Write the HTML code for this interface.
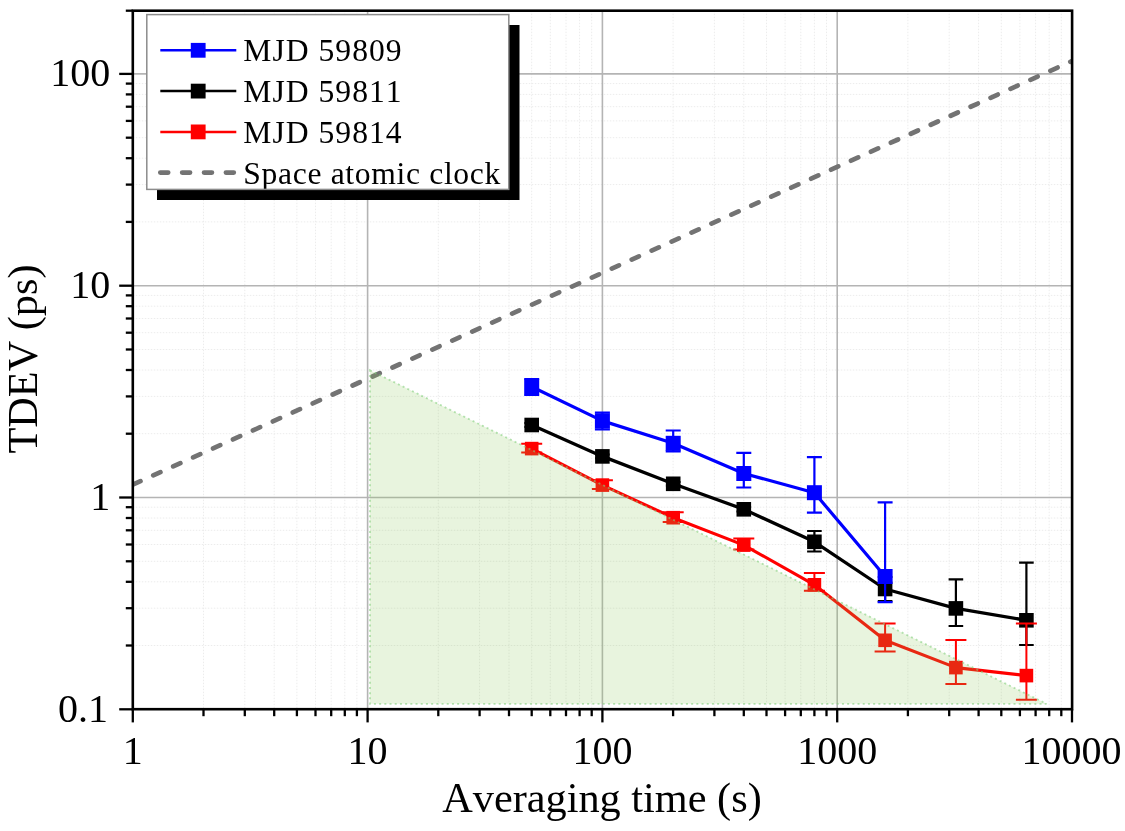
<!DOCTYPE html>
<html lang="en"><head><meta charset="utf-8"><title>TDEV vs averaging time</title>
<style>html,body{margin:0;padding:0;background:#fff;}body{width:1125px;height:831px;overflow:hidden;}svg{display:block;}text{font-family:"Liberation Serif","DejaVu Serif",serif;fill:#000;font-kerning:none;}</style></head><body>
<svg width="1125" height="831" viewBox="0 0 1125 831">
<rect x="0" y="0" width="1125" height="831" fill="#ffffff"/>
<g stroke="#ececec" stroke-width="1" stroke-dasharray="1.5 1.5" fill="none">
<line x1="203.5" y1="10.7" x2="203.5" y2="709.2"/>
<line x1="244.8" y1="10.7" x2="244.8" y2="709.2"/>
<line x1="274.2" y1="10.7" x2="274.2" y2="709.2"/>
<line x1="296.9" y1="10.7" x2="296.9" y2="709.2"/>
<line x1="315.5" y1="10.7" x2="315.5" y2="709.2"/>
<line x1="331.2" y1="10.7" x2="331.2" y2="709.2"/>
<line x1="344.8" y1="10.7" x2="344.8" y2="709.2"/>
<line x1="356.9" y1="10.7" x2="356.9" y2="709.2"/>
<line x1="438.3" y1="10.7" x2="438.3" y2="709.2"/>
<line x1="479.6" y1="10.7" x2="479.6" y2="709.2"/>
<line x1="509.0" y1="10.7" x2="509.0" y2="709.2"/>
<line x1="531.7" y1="10.7" x2="531.7" y2="709.2"/>
<line x1="550.3" y1="10.7" x2="550.3" y2="709.2"/>
<line x1="566.0" y1="10.7" x2="566.0" y2="709.2"/>
<line x1="579.6" y1="10.7" x2="579.6" y2="709.2"/>
<line x1="591.7" y1="10.7" x2="591.7" y2="709.2"/>
<line x1="673.1" y1="10.7" x2="673.1" y2="709.2"/>
<line x1="714.4" y1="10.7" x2="714.4" y2="709.2"/>
<line x1="743.8" y1="10.7" x2="743.8" y2="709.2"/>
<line x1="766.5" y1="10.7" x2="766.5" y2="709.2"/>
<line x1="785.1" y1="10.7" x2="785.1" y2="709.2"/>
<line x1="800.8" y1="10.7" x2="800.8" y2="709.2"/>
<line x1="814.4" y1="10.7" x2="814.4" y2="709.2"/>
<line x1="826.5" y1="10.7" x2="826.5" y2="709.2"/>
<line x1="907.9" y1="10.7" x2="907.9" y2="709.2"/>
<line x1="949.2" y1="10.7" x2="949.2" y2="709.2"/>
<line x1="978.6" y1="10.7" x2="978.6" y2="709.2"/>
<line x1="1001.3" y1="10.7" x2="1001.3" y2="709.2"/>
<line x1="1019.9" y1="10.7" x2="1019.9" y2="709.2"/>
<line x1="1035.6" y1="10.7" x2="1035.6" y2="709.2"/>
<line x1="1049.2" y1="10.7" x2="1049.2" y2="709.2"/>
<line x1="1061.3" y1="10.7" x2="1061.3" y2="709.2"/>
<line x1="132.8" y1="645.5" x2="1072.1" y2="645.5"/>
<line x1="132.8" y1="608.2" x2="1072.1" y2="608.2"/>
<line x1="132.8" y1="581.8" x2="1072.1" y2="581.8"/>
<line x1="132.8" y1="561.3" x2="1072.1" y2="561.3"/>
<line x1="132.8" y1="544.5" x2="1072.1" y2="544.5"/>
<line x1="132.8" y1="530.3" x2="1072.1" y2="530.3"/>
<line x1="132.8" y1="518.0" x2="1072.1" y2="518.0"/>
<line x1="132.8" y1="507.2" x2="1072.1" y2="507.2"/>
<line x1="132.8" y1="433.7" x2="1072.1" y2="433.7"/>
<line x1="132.8" y1="396.4" x2="1072.1" y2="396.4"/>
<line x1="132.8" y1="370.0" x2="1072.1" y2="370.0"/>
<line x1="132.8" y1="349.5" x2="1072.1" y2="349.5"/>
<line x1="132.8" y1="332.7" x2="1072.1" y2="332.7"/>
<line x1="132.8" y1="318.5" x2="1072.1" y2="318.5"/>
<line x1="132.8" y1="306.2" x2="1072.1" y2="306.2"/>
<line x1="132.8" y1="295.4" x2="1072.1" y2="295.4"/>
<line x1="132.8" y1="221.9" x2="1072.1" y2="221.9"/>
<line x1="132.8" y1="184.6" x2="1072.1" y2="184.6"/>
<line x1="132.8" y1="158.2" x2="1072.1" y2="158.2"/>
<line x1="132.8" y1="137.7" x2="1072.1" y2="137.7"/>
<line x1="132.8" y1="120.9" x2="1072.1" y2="120.9"/>
<line x1="132.8" y1="106.7" x2="1072.1" y2="106.7"/>
<line x1="132.8" y1="94.4" x2="1072.1" y2="94.4"/>
<line x1="132.8" y1="83.6" x2="1072.1" y2="83.6"/>
</g>
<g stroke="#b4b4b4" stroke-width="1.6" fill="none">
<line x1="367.6" y1="10.7" x2="367.6" y2="709.2"/>
<line x1="602.4" y1="10.7" x2="602.4" y2="709.2"/>
<line x1="837.2" y1="10.7" x2="837.2" y2="709.2"/>
<line x1="132.8" y1="497.5" x2="1072.1" y2="497.5"/>
<line x1="132.8" y1="285.7" x2="1072.1" y2="285.7"/>
<line x1="132.8" y1="73.9" x2="1072.1" y2="73.9"/>
</g>
<clipPath id="plotclip"><rect x="132.8" y="10.7" width="939.3" height="698.5"/></clipPath>
<line clip-path="url(#plotclip)" x1="133.3" y1="484.4" x2="1072.1" y2="61.0" stroke="#737373" stroke-width="4.7" stroke-linecap="round" stroke-dasharray="7.9 13.97" stroke-dashoffset="0"/>
<g stroke="#000000" fill="#000000">
<polyline points="531.7,425.0 602.4,456.4 673.2,483.8 743.8,509.3 814.4,541.8 885.1,589.0 955.9,608.4 1026.4,620.3" fill="none" stroke-width="3.3" stroke-linejoin="round"/>
<path d="M531.7 423.0V427.0M524.4 423.0H539.0M524.4 427.0H539.0" fill="none" stroke-width="2.2"/>
<path d="M602.4 454.5V458.3M595.1 454.5H609.7M595.1 458.3H609.7" fill="none" stroke-width="2.2"/>
<path d="M673.2 482.0V485.6M665.9 482.0H680.5M665.9 485.6H680.5" fill="none" stroke-width="2.2"/>
<path d="M743.8 507.0V511.5M736.5 507.0H751.1M736.5 511.5H751.1" fill="none" stroke-width="2.2"/>
<path d="M814.4 531.0V551.5M807.1 531.0H821.7M807.1 551.5H821.7" fill="none" stroke-width="2.2"/>
<path d="M885.1 577.0V601.2M877.8 577.0H892.4M877.8 601.2H892.4" fill="none" stroke-width="2.2"/>
<path d="M955.9 579.4V626.0M948.6 579.4H963.2M948.6 626.0H963.2" fill="none" stroke-width="2.2"/>
<path d="M1026.4 562.7V645.0M1019.1 562.7H1033.7M1019.1 645.0H1033.7" fill="none" stroke-width="2.2"/>
<rect x="524.4" y="417.7" width="14.6" height="14.6" stroke="none"/>
<rect x="595.1" y="449.1" width="14.6" height="14.6" stroke="none"/>
<rect x="665.9" y="476.5" width="14.6" height="14.6" stroke="none"/>
<rect x="736.5" y="502.0" width="14.6" height="14.6" stroke="none"/>
<rect x="807.1" y="534.5" width="14.6" height="14.6" stroke="none"/>
<rect x="877.8" y="581.7" width="14.6" height="14.6" stroke="none"/>
<rect x="948.6" y="601.1" width="14.6" height="14.6" stroke="none"/>
<rect x="1019.1" y="613.0" width="14.6" height="14.6" stroke="none"/>
</g>
<g stroke="#0000ff" fill="#0000ff">
<polyline points="531.7,386.8 602.4,420.9 673.2,443.3 743.8,473.5 814.4,492.7 885.1,576.5" fill="none" stroke-width="3.2" stroke-linejoin="round"/>
<path d="M531.7 379.0V395.0M524.2 379.0H539.2M524.2 395.0H539.2" fill="none" stroke-width="2.2"/>
<path d="M602.4 412.7V429.3M594.9 412.7H609.9M594.9 429.3H609.9" fill="none" stroke-width="2.2"/>
<path d="M673.2 430.5V451.3M665.7 430.5H680.7M665.7 451.3H680.7" fill="none" stroke-width="2.2"/>
<path d="M743.8 452.8V487.5M736.3 452.8H751.3M736.3 487.5H751.3" fill="none" stroke-width="2.2"/>
<path d="M814.4 457.1V512.6M806.9 457.1H821.9M806.9 512.6H821.9" fill="none" stroke-width="2.2"/>
<path d="M885.1 502.3V602.2M877.6 502.3H892.6M877.6 602.2H892.6" fill="none" stroke-width="2.2"/>
<rect x="524.2" y="379.3" width="15.0" height="15.0" stroke="none"/>
<rect x="594.9" y="413.4" width="15.0" height="15.0" stroke="none"/>
<rect x="665.7" y="435.8" width="15.0" height="15.0" stroke="none"/>
<rect x="736.3" y="466.0" width="15.0" height="15.0" stroke="none"/>
<rect x="806.9" y="485.2" width="15.0" height="15.0" stroke="none"/>
<rect x="877.6" y="569.0" width="15.0" height="15.0" stroke="none"/>
</g>
<g stroke="#ff0000" fill="#ff0000">
<polyline points="531.7,448.6 602.4,485.1 673.2,517.7 743.8,545.1 814.4,584.8 885.1,640.3 955.9,667.6 1026.4,675.6" fill="none" stroke-width="3.1" stroke-linejoin="round"/>
<path d="M531.7 443.8V452.5M521.2 443.8H542.2M521.2 452.5H542.2" fill="none" stroke-width="2.0"/>
<path d="M602.4 480.3V489.0M591.9 480.3H612.9M591.9 489.0H612.9" fill="none" stroke-width="2.0"/>
<path d="M673.2 512.2V522.0M662.7 512.2H683.7M662.7 522.0H683.7" fill="none" stroke-width="2.0"/>
<path d="M743.8 538.6V549.5M733.3 538.6H754.3M733.3 549.5H754.3" fill="none" stroke-width="2.0"/>
<path d="M814.4 573.0V590.8M803.9 573.0H824.9M803.9 590.8H824.9" fill="none" stroke-width="2.0"/>
<path d="M885.1 623.4V651.6M874.6 623.4H895.6M874.6 651.6H895.6" fill="none" stroke-width="2.0"/>
<path d="M955.9 640.1V684.0M945.4 640.1H966.4M945.4 684.0H966.4" fill="none" stroke-width="2.0"/>
<path d="M1026.4 623.4V699.8M1015.9 623.4H1036.9M1015.9 699.8H1036.9" fill="none" stroke-width="2.0"/>
<rect x="524.9" y="441.8" width="13.6" height="13.6" stroke="none"/>
<rect x="595.6" y="478.3" width="13.6" height="13.6" stroke="none"/>
<rect x="666.4" y="510.9" width="13.6" height="13.6" stroke="none"/>
<rect x="737.0" y="538.3" width="13.6" height="13.6" stroke="none"/>
<rect x="807.6" y="578.0" width="13.6" height="13.6" stroke="none"/>
<rect x="878.3" y="633.5" width="13.6" height="13.6" stroke="none"/>
<rect x="949.1" y="660.8" width="13.6" height="13.6" stroke="none"/>
<rect x="1019.6" y="668.8" width="13.6" height="13.6" stroke="none"/>
</g>
<polygon points="370,370.3 1046.5,703.8 370,703.8" fill="#8cc85a" fill-opacity="0.2" stroke="#86d07e" stroke-opacity="0.6" stroke-width="1.8" stroke-dasharray="2 3.2"/>
<g stroke="#000" stroke-width="2.6" fill="none">
<rect x="132.8" y="10.7" width="939.3" height="698.5"/>
</g>
<g stroke="#000" stroke-width="2.3" fill="none">
<line x1="132.8" y1="709.2" x2="132.8" y2="722.4"/>
<line x1="203.5" y1="709.2" x2="203.5" y2="716.2"/>
<line x1="244.8" y1="709.2" x2="244.8" y2="716.2"/>
<line x1="274.2" y1="709.2" x2="274.2" y2="716.2"/>
<line x1="296.9" y1="709.2" x2="296.9" y2="716.2"/>
<line x1="315.5" y1="709.2" x2="315.5" y2="716.2"/>
<line x1="331.2" y1="709.2" x2="331.2" y2="716.2"/>
<line x1="344.8" y1="709.2" x2="344.8" y2="716.2"/>
<line x1="356.9" y1="709.2" x2="356.9" y2="716.2"/>
<line x1="367.6" y1="709.2" x2="367.6" y2="722.4"/>
<line x1="438.3" y1="709.2" x2="438.3" y2="716.2"/>
<line x1="479.6" y1="709.2" x2="479.6" y2="716.2"/>
<line x1="509.0" y1="709.2" x2="509.0" y2="716.2"/>
<line x1="531.7" y1="709.2" x2="531.7" y2="716.2"/>
<line x1="550.3" y1="709.2" x2="550.3" y2="716.2"/>
<line x1="566.0" y1="709.2" x2="566.0" y2="716.2"/>
<line x1="579.6" y1="709.2" x2="579.6" y2="716.2"/>
<line x1="591.7" y1="709.2" x2="591.7" y2="716.2"/>
<line x1="602.4" y1="709.2" x2="602.4" y2="722.4"/>
<line x1="673.1" y1="709.2" x2="673.1" y2="716.2"/>
<line x1="714.4" y1="709.2" x2="714.4" y2="716.2"/>
<line x1="743.8" y1="709.2" x2="743.8" y2="716.2"/>
<line x1="766.5" y1="709.2" x2="766.5" y2="716.2"/>
<line x1="785.1" y1="709.2" x2="785.1" y2="716.2"/>
<line x1="800.8" y1="709.2" x2="800.8" y2="716.2"/>
<line x1="814.4" y1="709.2" x2="814.4" y2="716.2"/>
<line x1="826.5" y1="709.2" x2="826.5" y2="716.2"/>
<line x1="837.2" y1="709.2" x2="837.2" y2="722.4"/>
<line x1="907.9" y1="709.2" x2="907.9" y2="716.2"/>
<line x1="949.2" y1="709.2" x2="949.2" y2="716.2"/>
<line x1="978.6" y1="709.2" x2="978.6" y2="716.2"/>
<line x1="1001.3" y1="709.2" x2="1001.3" y2="716.2"/>
<line x1="1019.9" y1="709.2" x2="1019.9" y2="716.2"/>
<line x1="1035.6" y1="709.2" x2="1035.6" y2="716.2"/>
<line x1="1049.2" y1="709.2" x2="1049.2" y2="716.2"/>
<line x1="1061.3" y1="709.2" x2="1061.3" y2="716.2"/>
<line x1="1072.0" y1="709.2" x2="1072.0" y2="722.4"/>
<line x1="132.8" y1="709.3" x2="119.2" y2="709.3"/>
<line x1="132.8" y1="645.5" x2="125.8" y2="645.5"/>
<line x1="132.8" y1="608.2" x2="125.8" y2="608.2"/>
<line x1="132.8" y1="581.8" x2="125.8" y2="581.8"/>
<line x1="132.8" y1="561.3" x2="125.8" y2="561.3"/>
<line x1="132.8" y1="544.5" x2="125.8" y2="544.5"/>
<line x1="132.8" y1="530.3" x2="125.8" y2="530.3"/>
<line x1="132.8" y1="518.0" x2="125.8" y2="518.0"/>
<line x1="132.8" y1="507.2" x2="125.8" y2="507.2"/>
<line x1="132.8" y1="497.5" x2="119.2" y2="497.5"/>
<line x1="132.8" y1="433.7" x2="125.8" y2="433.7"/>
<line x1="132.8" y1="396.4" x2="125.8" y2="396.4"/>
<line x1="132.8" y1="370.0" x2="125.8" y2="370.0"/>
<line x1="132.8" y1="349.5" x2="125.8" y2="349.5"/>
<line x1="132.8" y1="332.7" x2="125.8" y2="332.7"/>
<line x1="132.8" y1="318.5" x2="125.8" y2="318.5"/>
<line x1="132.8" y1="306.2" x2="125.8" y2="306.2"/>
<line x1="132.8" y1="295.4" x2="125.8" y2="295.4"/>
<line x1="132.8" y1="285.7" x2="119.2" y2="285.7"/>
<line x1="132.8" y1="221.9" x2="125.8" y2="221.9"/>
<line x1="132.8" y1="184.6" x2="125.8" y2="184.6"/>
<line x1="132.8" y1="158.2" x2="125.8" y2="158.2"/>
<line x1="132.8" y1="137.7" x2="125.8" y2="137.7"/>
<line x1="132.8" y1="120.9" x2="125.8" y2="120.9"/>
<line x1="132.8" y1="106.7" x2="125.8" y2="106.7"/>
<line x1="132.8" y1="94.4" x2="125.8" y2="94.4"/>
<line x1="132.8" y1="83.6" x2="125.8" y2="83.6"/>
<line x1="132.8" y1="73.9" x2="119.2" y2="73.9"/>
<line x1="132.8" y1="10.7" x2="125.8" y2="10.7"/>
</g>
<g font-size="40px">
<text x="132.8" y="764.3" text-anchor="middle">1</text>
<text x="367.6" y="764.3" text-anchor="middle">10</text>
<text x="602.4" y="764.3" text-anchor="middle">100</text>
<text x="837.2" y="764.3" text-anchor="middle">1000</text>
<text x="1071.5" y="764.3" text-anchor="middle">10000</text>
<text x="108.0" y="721.8" text-anchor="end">0.1</text>
<text x="110.3" y="510.0" text-anchor="end">1</text>
<text x="110.3" y="298.2" text-anchor="end">10</text>
<text x="110.3" y="86.4" text-anchor="end">100</text>
</g>
<text x="602" y="812.3" font-size="42.3px" text-anchor="middle">Averaging time (s)</text>
<text transform="translate(37,359) rotate(-90)" font-size="42.3px" text-anchor="middle">TDEV (ps)</text>
<rect x="157" y="25" width="362.5" height="175" fill="#000"/>
<rect x="146.8" y="14.6" width="362" height="174.8" fill="#fff" stroke="#8c8c8c" stroke-width="1.5"/>
<line x1="160.3" y1="50.3" x2="236.3" y2="50.3" stroke="#0000ff" stroke-width="2.5"/>
<rect x="190.8" y="42.9" width="14.8" height="14.8" fill="#0000ff"/>
<line x1="160.3" y1="91.1" x2="236.3" y2="91.1" stroke="#000000" stroke-width="2.5"/>
<rect x="190.8" y="83.7" width="14.8" height="14.8" fill="#000000"/>
<line x1="160.3" y1="131.9" x2="236.3" y2="131.9" stroke="#ff0000" stroke-width="2.5"/>
<rect x="190.8" y="124.5" width="14.8" height="14.8" fill="#ff0000"/>
<line x1="160.3" y1="172.6" x2="236.3" y2="172.6" stroke="#737373" stroke-width="4.7" stroke-linecap="round" stroke-dasharray="7.9 13.97"/>
<svg x="147.5" y="15.3" width="360.5" height="173.4" viewBox="147.5 15.3 360.5 173.4" overflow="hidden"><g font-size="31.6px">
<text x="243.3" y="61.3" textLength="158.3" lengthAdjust="spacing">MJD 59809</text>
<text x="243.3" y="102.1" textLength="158.3" lengthAdjust="spacing">MJD 59811</text>
<text x="243.3" y="143.1" textLength="158.3" lengthAdjust="spacing">MJD 59814</text>
<text x="243.3" y="183.5" textLength="257.0" lengthAdjust="spacing">Space atomic clock</text>
</g></svg>
</svg></body></html>
